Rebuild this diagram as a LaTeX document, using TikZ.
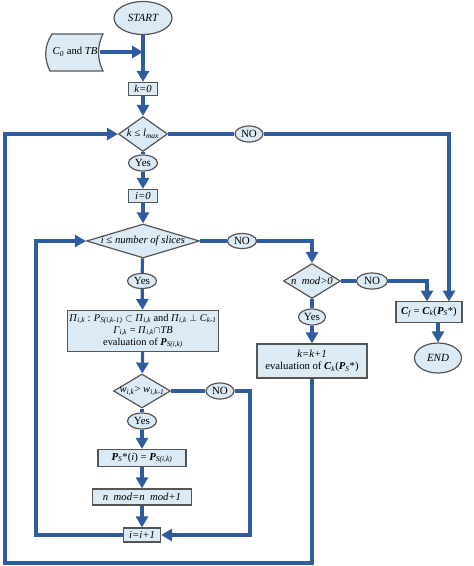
\documentclass[tikz,border=0pt]{standalone}
\usepackage{fontspec}
\setmainfont{Liberation Serif}
\usetikzlibrary{shapes.geometric,arrows.meta}
\definecolor{connc}{RGB}{46,92,158}
\definecolor{boxfill}{RGB}{220,234,246}
\definecolor{boxline}{RGB}{85,85,85}
\newcommand{\sbi}[1]{\textsubscript{\itshape #1}}
\newcommand{\bi}[1]{\textbf{\textit{#1}}}
\begin{document}
\begin{tikzpicture}[x=1pt,y=-1pt,
 every node/.style={font=\fontsize{10.7}{12}\selectfont, inner sep=0pt},
 box/.style={draw=boxline, line width=1.2pt, fill=boxfill, rectangle, align=center},
 oval/.style={draw=boxline, line width=1.2pt, fill=boxfill, ellipse, font=\fontsize{11}{12}\selectfont},
 dia/.style={draw=boxline, line width=1.2pt, fill=boxfill, diamond},
 conn/.style={draw=connc, line width=3.2pt},
 arr/.style={conn, -{Triangle[length=11pt,width=12pt]}},
]
\useasboundingbox (0,0) rectangle (474,566);
% stored data shape for input
\draw[boxline, line width=1.2pt, fill=boxfill] (52,34) -- (103,34) .. controls (97,46) and (97,59) .. (103,71) -- (50,71) .. controls (44,59) and (44,46) .. (52,34) -- cycle;
\node[minimum width=50, minimum height=37] (c0) at (75,52) {\textit{C}\sbi{0} and \textit{TB}};

\node[oval, minimum width=58, minimum height=33, font=\fontsize{11}{12}\selectfont\itshape] (start) at (143,18) {START};
\node[box, minimum width=29, minimum height=13] (k0) at (143,89) {\textit{k=0}};
\node[dia, minimum width=49, minimum height=35] (kd) at (143,134) {\makebox[0pt]{\textit{k} ≤ \textit{l}\sbi{max}}};
\node[oval, minimum width=29, minimum height=16] (ky) at (143,163) {Yes};
\node[oval, minimum width=28, minimum height=16] (kn) at (249,134) {NO};
\node[box, minimum width=29, minimum height=13] (i0) at (143,196) {\textit{i=0}};
\node[dia, minimum width=113, minimum height=34] (id) at (143,241) {\makebox[0pt]{\textit{i} ≤ \textit{number of slices}}};
\node[oval, minimum width=29, minimum height=15] (ino) at (242,241) {NO};
\node[oval, minimum width=29, minimum height=15] (iy) at (142,281) {Yes};
\node[box, minimum width=151, minimum height=41, font=\fontsize{10.4}{12}\selectfont] (pi) at (143,331)
 {\textit{Π}\sbi{i,k} : \textit{P}\sbi{S(i,k-1)} $\subset$ \textit{Π}\sbi{i,k} and \textit{Π}\sbi{i,k} $\perp$ \textit{C}\sbi{k-1}\\
  \textit{Γ}\sbi{i,k} = \textit{Π}\sbi{i,k}$\cap$\textit{TB}\\
  evaluation of \bi{P}\sbi{S(i,k)}};
\node[dia, minimum width=57, minimum height=34] (wd) at (142,391) {\makebox[0pt]{\textit{w}\sbi{i,k}> \textit{w}\sbi{i,k-1}}};
\node[oval, minimum width=28, minimum height=16] (wno) at (220,391) {NO};
\node[oval, minimum width=29, minimum height=16] (wy) at (142,421) {Yes};
\node[box, minimum width=88, minimum height=17] (ps) at (142,458) {\bi{P}\sbi{S}*(\textit{i}) = \bi{P}\sbi{S(i,k)}};
\node[box, minimum width=99, minimum height=16] (nm) at (142,497) {\textit{n\ \ mod=n\ \ mod+1}};
\node[box, minimum width=37, minimum height=14] (inc) at (142,535) {\textit{i=i+1}};
\node[dia, minimum width=57, minimum height=35] (nd) at (312,281) {\makebox[0pt]{\textit{n\ \ mod>0}}};
\node[oval, minimum width=31, minimum height=16] (nno) at (372,281) {NO};
\node[oval, minimum width=27, minimum height=16] (ny) at (312,317) {Yes};
\node[box, minimum width=110, minimum height=34] (kinc) at (312,361) {\textit{k=k+1}\\evaluation of \bi{C}\sbi{k}(\bi{P}\sbi{S}*)};
\node[box, minimum width=66, minimum height=21] (cf) at (429,312) {\bi{C}\sbi{f} = \bi{C}\sbi{k}(\bi{P}\sbi{S}*)};
\node[oval, minimum width=47, minimum height=30, font=\fontsize{11}{12}\selectfont\itshape] (end) at (438,358) {END};

\coordinate (cfR) at (449,301.5);
\coordinate (cfL) at (427,301.5);
\coordinate (wc) at (250,391);
\coordinate (il) at (36,535);
\coordinate (kb) at (312,563);
\coordinate (kl) at (5,563);

% connectors
\draw[arr] (start) -- (k0);
\draw[arr] (c0.east) -- (c0.east -| start);
\draw[arr] (k0) -- (kd);
\draw[conn] (kd) -- (ky);
\draw[arr] (ky) -- (i0);
\draw[conn] (kd) -- (kn);
\draw[arr] (kn) -| (cfR);
\draw[arr] (i0) -- (id);
\draw[conn] (id) -- (iy);
\draw[arr] (iy) -- (pi);
\draw[conn] (id) -- (ino);
\draw[arr] (ino) -| (nd);
\draw[arr] (pi) -- (wd);
\draw[conn] (wd) -- (wy);
\draw[arr] (wy) -- (ps);
\draw[arr] (ps) -- (nm);
\draw[arr] (nm) -- (inc);
\draw[conn] (wd) -- (wno);
\draw[arr] (wno) -- (wc) |- (inc);
\draw[arr] (inc) -- (il) |- (id);
\draw[conn] (nd) -- (nno);
\draw[arr] (nno) -| (cfL);
\draw[conn] (nd) -- (ny);
\draw[arr] (ny) -- (kinc);
\draw[arr] (kinc) -- (kb) -- (kl) |- (kd);
\draw[arr] (cf.south -| end) -- (end);
\end{tikzpicture}
\end{document}
